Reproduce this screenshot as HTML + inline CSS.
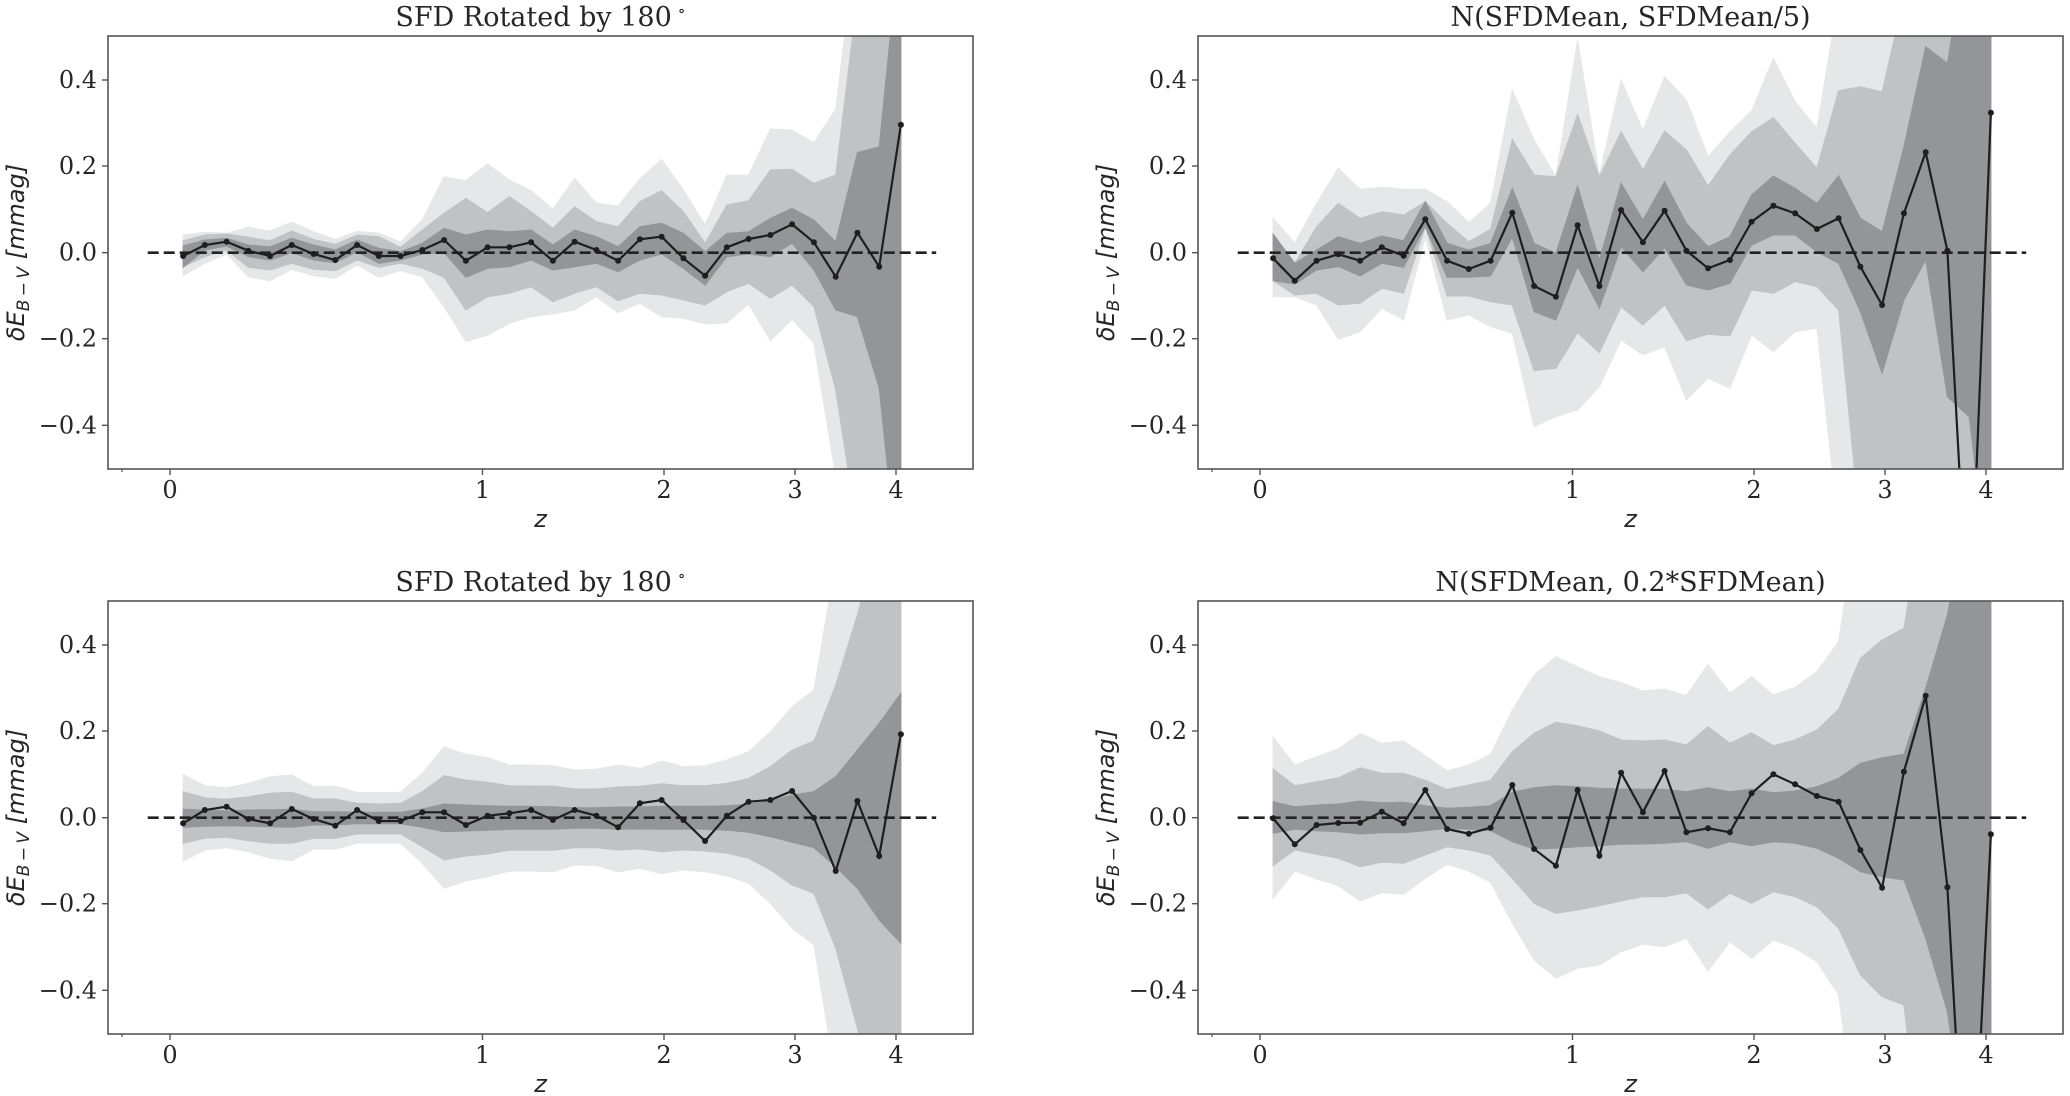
<!DOCTYPE html>
<html><head><meta charset="utf-8">
<style>
html,body{margin:0;padding:0;background:#fff;overflow:hidden;width:2070px;height:1096px;}
svg{display:block;}
</style></head>
<body>
<svg id="s" width="2070" height="1096" xmlns="http://www.w3.org/2000/svg"></svg>
<script>
const panels=[
{ox:100,oy:30,title:'SFD Rotated by 180',deg:true,
line:[678,645,635,662,678,645,672,690,645,678,678,660,630,692,652,652,637,692,635,660,692,628,620,685,737,652,627,615,583,637,740,608,710,284],
LU:[615,607,610,592,603,576,605,628,604,610,636,570,440,452,402,450,482,538,445,520,528,446,388,480,585,436,436,297,300,338,238,-300,-300,-300],
LL:[737,700,672,740,752,718,737,745,705,742,722,740,830,935,915,880,860,852,840,800,848,820,860,865,882,878,822,932,868,940,1340,2000,2000,2000],
MU:[632,615,612,622,632,603,628,643,615,620,652,600,550,505,548,500,545,595,530,575,590,515,482,545,640,525,512,420,418,460,435,-100,-300,-300],
ML:[710,680,660,712,720,700,718,722,690,712,700,715,742,840,800,790,770,815,790,770,812,790,795,810,825,785,760,805,765,830,1080,1500,1700,1700],
DU:[648,630,625,645,650,625,645,660,630,655,665,640,595,615,600,605,600,645,600,620,650,590,580,610,665,610,605,565,535,570,635,368,350,-300],
DL:[712,660,648,680,690,668,690,698,665,700,690,672,668,742,715,710,690,720,710,700,725,690,672,715,765,680,672,680,640,720,840,860,1075,1700]},
{ox:1190,oy:30,title:'N(SFDMean, SFDMean/5)',
line:[685,752,692,673,692,652,677,568,692,717,692,548,768,800,586,768,540,637,542,662,715,690,575,527,550,597,565,710,825,550,367,662,1857,248],
LU:[565,640,520,415,478,472,478,478,515,578,520,180,330,440,30,435,150,300,140,210,380,305,242,85,215,295,-100,-300,-300,-300,-300,-300,-300,-300],
LL:[800,800,825,928,905,835,870,620,870,855,890,910,1190,1160,1140,1070,930,975,950,1110,1045,1075,915,965,905,895,1500,1700,1700,1700,1700,1700,1700,1700],
MU:[612,700,590,520,565,545,555,515,580,635,598,328,435,440,253,440,305,420,303,360,468,375,305,263,340,415,182,170,185,-100,-300,-300,-300,-300],
ML:[752,795,790,825,820,775,790,590,798,798,815,825,1022,1015,908,968,830,885,825,932,913,918,780,790,755,770,840,1500,1500,1500,1500,1500,1500,1700],
DU:[612,700,660,620,640,618,632,515,640,660,640,475,640,670,468,690,460,570,455,580,650,620,495,438,475,520,437,565,605,350,50,100,-300,-300],
DL:[752,762,720,710,738,700,712,590,742,742,738,622,845,870,710,835,650,725,653,765,780,760,645,615,615,665,700,845,1030,810,690,1100,1160,1700]},
{ox:100,oy:595,title:'SFD Rotated by 180',deg:true,
line:[685,645,635,672,685,642,672,692,645,678,678,652,652,690,662,655,645,675,645,662,697,625,615,675,738,662,620,615,588,668,828,618,783,418],
LU:[538,572,578,565,545,540,575,574,592,593,592,535,455,478,488,510,510,512,525,523,510,520,498,515,512,495,470,410,335,285,-100,-300,-300,-300],
LL:[798,765,758,770,790,797,762,763,745,745,745,805,880,858,845,828,828,830,810,812,830,820,836,825,830,842,865,925,1000,1050,1450,1700,1700,1700],
MU:[590,608,613,605,595,592,612,612,625,627,625,590,542,555,562,572,573,573,582,582,576,574,566,572,572,565,550,515,465,438,270,60,-200,-300],
ML:[745,730,727,737,745,745,730,730,717,717,717,755,795,783,777,766,766,766,758,758,765,762,770,765,768,775,790,825,870,895,1060,1300,1600,1700],
DU:[643,645,648,645,644,643,650,650,652,652,652,642,627,630,632,634,634,635,638,638,636,636,634,634,634,632,628,618,600,590,545,465,385,295],
DL:[697,694,692,694,695,697,690,690,686,686,686,697,710,708,706,703,703,703,700,700,703,702,703,703,703,706,712,725,742,758,815,880,975,1045]},
{ox:1190,oy:595,title:'N(SFDMean, 0.2*SFDMean)',
line:[670,748,690,684,683,650,685,585,702,716,698,570,762,812,585,782,533,652,528,712,700,712,595,538,568,603,620,765,878,530,302,877,2020,718],
LU:[427,510,485,462,415,445,438,482,527,510,478,345,240,185,215,245,262,288,282,302,208,295,245,300,277,230,140,-300,-300,-300,-300,-300,-300,-300],
LL:[910,828,852,872,918,893,898,850,808,828,862,985,1095,1150,1120,1110,1070,1048,1055,1030,1128,1040,1090,1035,1060,1100,1200,1700,1700,1700,1700,1700,1700,1700],
MU:[522,572,560,548,518,535,535,556,583,570,556,470,415,382,392,408,435,438,435,450,395,445,413,452,435,405,343,190,135,100,-300,-300,-300,-300],
ML:[812,765,778,790,815,802,805,780,755,765,780,850,925,955,945,932,918,905,905,893,942,895,925,890,905,935,1000,1140,1205,1230,1800,1800,1800,1800],
DU:[620,635,630,627,618,623,622,632,640,637,632,592,578,572,575,580,582,583,583,590,578,590,582,593,588,575,550,505,488,478,280,60,-300,-300],
DL:[715,703,707,710,717,713,713,707,700,703,707,740,762,760,755,752,748,747,745,740,760,740,752,740,745,760,790,830,845,855,1030,1250,1700,1700]}
];
let h='';
panels.forEach((p,k)=>{
  const X=xz=>(p.ox+xz*880/1568).toFixed(1), Y=yz=>(p.oy+yz/3).toFixed(1);
  const ax=p.ox+8, ay=p.oy+6, aw=865, ah=433;
  const xs=[];for(let i=0;i<34;i++)xs.push(148+38.76*i);
  h+=`<clipPath id="c${k}"><rect x="${ax}" y="${ay}" width="${aw}" height="${ah}"/></clipPath><g clip-path="url(#c${k})">`;
  const band=(U,L,col)=>{let d='M';for(let i=0;i<34;i++)d+=X(xs[i])+','+Y(U[i])+' L';for(let i=33;i>=0;i--)d+=X(xs[i])+','+Y(L[i])+(i?' L':' Z');h+=`<path d="${d}" fill="${col}" stroke="${col}" stroke-width="1"/>`;};
  band(p.LU,p.LL,'#e6e7e8');band(p.MU,p.ML,'#c1c2c4');band(p.DU,p.DL,'#949598');
  h+=`<line x1="${X(85)}" y1="${Y(668)}" x2="${X(1490)}" y2="${Y(668)}" stroke="#222" stroke-width="2.6" stroke-dasharray="11,5"/>`;
  let pts=xs.map((x,i)=>X(x)+','+Y(p.line[i])).join(' ');
  h+=`<polyline points="${pts}" fill="none" stroke="#1e1e1e" stroke-width="2.2"/>`;
  xs.forEach((x,i)=>{h+=`<circle cx="${X(x)}" cy="${Y(p.line[i])}" r="3" fill="#1e1e1e"/>`;});
  h+='</g>';
  h+=`<rect x="${ax}" y="${ay}" width="${aw}" height="${ah}" fill="none" stroke="#555" stroke-width="1.6"/>`;
  const yv=[['0.4',150],['0.2',408],['0.0',668],['\u22120.2',926],['\u22120.4',1186]];
  yv.forEach(t=>{const yy=+Y(t[1]);h+=`<line x1="${ax-6}" y1="${yy}" x2="${ax}" y2="${yy}" stroke="#555" stroke-width="1.4"/><text x="${ax-11}" y="${yy+8}" text-anchor="end" font-family="DejaVu Serif, Liberation Serif, serif" font-size="24" fill="#262626">${t[0]}</text>`;});
  const by=ay+ah;const off=p.ox-100;
  [[170,'0'],[482.5,'1'],[664,'2'],[795,'3'],[896,'4']].forEach(t=>{const xx=t[0]+off;h+=`<line x1="${xx}" y1="${by}" x2="${xx}" y2="${by+6}" stroke="#555" stroke-width="1.4"/><text x="${xx}" y="${by+29}" text-anchor="middle" font-family="DejaVu Serif, Liberation Serif, serif" font-size="24" fill="#262626">${t[1]}</text>`;});
  h+=`<line x1="${122+off}" y1="${by}" x2="${122+off}" y2="${by+3}" stroke="#555" stroke-width="1.2"/>`;
  const cx=ax+aw/2;
  h+=`<text x="${cx}" y="${by+58}" text-anchor="middle" font-family="DejaVu Sans, Liberation Sans, sans-serif" font-style="italic" font-size="24" fill="#262626">z</text>`;
  h+=`<text x="${cx}" y="${p.oy-4}" text-anchor="middle" font-family="DejaVu Serif, Liberation Serif, serif" font-size="27" fill="#262626">${p.title}${p.deg?'<tspan dx="6" dy="-10" font-size="16">\u2218</tspan>':''}</text>`;
  const ly=ay+ah/2, lx=ax-84;
  h+=`<text transform="translate(${lx},${ly}) rotate(-90)" text-anchor="middle" font-family="DejaVu Sans, Liberation Sans, sans-serif" font-style="italic" font-size="24" fill="#262626">\u03b4E<tspan font-size="17" dy="5">B\u2009\u2212\u2009V</tspan><tspan dy="-5"> [mmag]</tspan></text>`;
});
document.getElementById('s').innerHTML=h;
</script>
</body></html>
